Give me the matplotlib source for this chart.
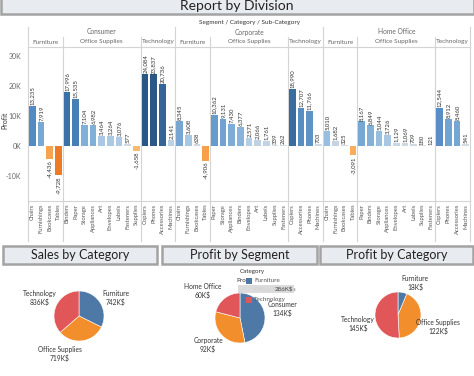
import matplotlib
matplotlib.use("Agg")
import matplotlib.pyplot as plt
import matplotlib.transforms as mtransforms
from matplotlib.patches import Rectangle
from matplotlib.colors import LinearSegmentedColormap, Normalize

plt.rcParams['font.family'] = ['Lato', 'DejaVu Sans']

# ---------------- data ----------------
segments = ["Consumer", "Corporate", "Home Office"]
categories = ["Furniture", "Office Supplies", "Technology"]
category_counts = [4, 9, 4]

consumer_subcats = ["Chairs", "Furnishings", "Bookcases", "Tables",
                    "Binders", "Paper", "Storage", "Appliances", "Art", "Envelopes", "Labels", "Fasteners", "Supplies",
                    "Copiers", "Phones", "Accessories", "Machines"]
consumer_profit = [13235, 7919, -4436, -9728,
                   17996, 15535, 7104, 6982, 3464, 3264, 3076, 577, -1658,
                   24084, 23837, 20736, 2141]

corporate_subcats = ["Chairs", "Furnishings", "Bookcases", "Tables",
                     "Paper", "Storage", "Appliances", "Binders", "Envelopes", "Art", "Labels", "Supplies", "Fasteners",
                     "Copiers", "Accessories", "Phones", "Machines"]
corporate_profit = [8345, 3608, 638, -4906,
                    10362, 9131, 7430, 6377, 2571, 2066, 1761, 339, 262,
                    18990, 12707, 11766, 703]

homeoffice_subcats = ["Chairs", "Furnishings", "Bookcases", "Tables",
                      "Paper", "Binders", "Storage", "Appliances", "Envelopes", "Art", "Labels", "Supplies", "Fasteners",
                      "Copiers", "Phones", "Accessories", "Machines"]
homeoffice_profit = [5010, 1682, 325, -3091,
                     8167, 6849, 5044, 3726, 1129, 1069, 709, 180, 121,
                     12544, 8912, 8460, 541]

yticks = [-10000, 0, 10000, 20000, 30000]
ytick_labels = ["-10K", "0K", "10K", "20K", "30K"]

sales_cat = ["Furniture", "Office Supplies", "Technology"]
sales_val = [742, 719, 836]
seg_names = ["Consumer", "Corporate", "Home Office"]
seg_profit = [134, 92, 60]
cat_names = ["Furniture", "Office Supplies", "Technology"]
cat_profit = [18, 122, 145]

pie_colors = ["#4e79a7", "#f28e2b", "#e15759"]

# ---------------- figure ----------------
W, H = 474, 376
fig = plt.figure(figsize=(W / 100, H / 100), dpi=100)
fig.patch.set_facecolor("white")


def rect(x0, y0, x1, y1):
    return [x0 / W, 1 - y1 / H, (x1 - x0) / W, (y1 - y0) / H]


def fx(x):
    return x / W


def fy(y):
    return 1 - y / H


def box(x0, y0, x1, y1, text, fs, ty):
    r = Rectangle((fx(x0), fy(y1)), (x1 - x0) / W, (y1 - y0) / H, transform=fig.transFigure,
                  facecolor="#e8ecf1", edgecolor="#a3a3a3", lw=1.8, zorder=0)
    fig.patches.append(r)
    fig.text(fx((x0 + x1) / 2), fy(ty), text, ha="center", va="center", fontsize=fs,
             color="#222222")


# Title
box(0.5, -6, 473.5, 14, "Report by Division", 10, 6.5)

# ---------------- bar chart ----------------
ax = fig.add_axes(rect(28, 47, 470, 201))
values = consumer_profit + corporate_profit + homeoffice_profit
labels = consumer_subcats + corporate_subcats + homeoffice_subcats
xs = list(range(len(values)))
vmax = max(abs(v) for v in values)
cmap = LinearSegmentedColormap.from_list("ob", [
    (0.0, "#b4470c"), (0.3, "#ee7a26"), (0.41, "#f7a550"), (0.47, "#f9bb72"),
    (0.5, "#dcdfe2"), (0.515, "#d0dae4"), (0.57, "#abc9e4"), (0.65, "#7eaed8"),
    (0.78, "#5189c0"), (0.87, "#3d72a8"), (1.0, "#2a5783")])
norm = Normalize(-vmax, vmax)
ax.bar(xs, values, width=0.78, color=[cmap(norm(v)) for v in values], zorder=2)
for x, v in zip(xs, values):
    ax.text(x, v + (300 if v >= 0 else -300), f"{v:,}", rotation=90, ha="center",
            va="bottom" if v >= 0 else "top", fontsize=4.3, color="#333333")
ax.set_xlim(-0.5, len(values) - 0.5)
ax.set_ylim(-18333, 33000)
ax.set_yticks(yticks)
ax.set_yticklabels(ytick_labels)
ax.set_xticks(xs)
ax.set_xticklabels(labels, rotation=90, fontsize=4.2, color="#555555")
ax.tick_params(axis="both", length=0)
ax.tick_params(axis="y", labelsize=5, labelcolor="#666666", pad=5)
ax.tick_params(axis="x", pad=2)
for s in ["top", "left", "right"]:
    ax.spines[s].set_visible(False)
ax.spines["bottom"].set_color("#d4d4d4")
ax.spines["bottom"].set_linewidth(0.8)
ax.set_facecolor("white")

trans = mtransforms.blended_transform_factory(ax.transData, fig.transFigure)
n_seg = sum(category_counts)
for si, seg in enumerate(segments):
    start = si * n_seg - 0.5
    ax.plot([start, start], [fy(27), fy(241)], transform=trans, color="#d4d4d4", lw=0.8,
            clip_on=False, zorder=1)
    ax.text(start + n_seg / 2, fy(32), seg, transform=trans, ha="center", va="center",
            fontsize=4.8, color="#666666")
    pos = start
    for ci, (cat, cnt) in enumerate(zip(categories, category_counts)):
        if ci > 0:
            ax.plot([pos, pos], [fy(37), fy(241)], transform=trans, color="#d4d4d4", lw=0.8,
                    clip_on=False, zorder=1)
        ax.text(pos + cnt / 2, fy(42), cat, transform=trans, ha="center", va="center",
                fontsize=4.6, color="#666666")
        pos += cnt
end = len(values) - 0.5
ax.plot([end, end], [fy(27), fy(241)], transform=trans, color="#d4d4d4", lw=0.8,
        clip_on=False, zorder=1)
ax.plot([-0.5, end], [fy(47), fy(47)], transform=trans, color="#d4d4d4", lw=0.8,
        clip_on=False, zorder=1)
ax.text((len(values) - 1) / 2, fy(22.5), "Segment / Category / Sub-Category", transform=trans,
        ha="center", va="center", fontsize=4.6, color="#333333")
fig.text(fx(5), fy(120), "Profit", rotation=90, ha="center", va="center", fontsize=5,
         color="#333333")

# ---------------- pies ----------------
box(3, 246, 157, 264, "Sales by Category", 9, 255)
box(162, 246, 317, 264, "Profit by Segment", 9, 255)
box(320, 246, 473, 264, "Profit by Category", 9, 255)


def pie(cx, cy, r, vals):
    a = fig.add_axes(rect(cx - r, cy - r, cx + r, cy + r))
    a.pie(vals, colors=pie_colors, startangle=90, counterclock=False, radius=1,
          wedgeprops=dict(edgecolor="white", linewidth=0.4))
    a.set_xlim(-1, 1)
    a.set_ylim(-1, 1)
    a.set_aspect("equal")
    a.axis("off")


def plabel(x, y, name, val):
    fig.text(fx(x), fy(y), f"{name}\n{val}K$", ha="center", va="center", fontsize=4.8,
             color="#333333", linespacing=1.3)


pie(79, 316, 25, sales_val)
plabel(40, 298, sales_cat[2], sales_val[2])
plabel(116, 298, sales_cat[0], sales_val[0])
plabel(60, 354, sales_cat[1], sales_val[1])

pie(240, 318, 25, seg_profit)
plabel(203, 291, seg_names[2], seg_profit[2])
plabel(282, 309, seg_names[0], seg_profit[0])
plabel(208, 345, seg_names[1], seg_profit[1])

# legend overlay on the segment pie
fig.text(fx(252), fy(272), "Category", ha="center", va="center", fontsize=4.5, color="#333333")
fig.text(fx(236), fy(280), "Profit", ha="left", va="center", fontsize=4.5, color="#333333")
for yy, col, name in [(281, pie_colors[0], cat_names[0]), (299.5, pie_colors[2], cat_names[2])]:
    fig.patches.append(Rectangle((fx(246), fy(yy + 3)), 6 / W, 6 / H, transform=fig.transFigure,
                                 facecolor=col, edgecolor="none", zorder=5))
    fig.text(fx(254), fy(yy), name, ha="left", va="center", fontsize=4.5, color="#555555",
             zorder=5)
fig.text(fx(254), fy(290), "Office Supplies", ha="left", va="center", fontsize=4.5,
         color="#555555", zorder=5)
fig.patches.append(Rectangle((fx(238), fy(293)), 56 / W, 8 / H, transform=fig.transFigure,
                             facecolor="#d9d9d9", edgecolor="none", alpha=0.95, zorder=6))
fig.text(fx(293), fy(289), "286K$", ha="right", va="center", fontsize=4.5, color="#444444",
         zorder=7)

pie(398, 315, 23, cat_profit)
plabel(415, 283, cat_names[0], cat_profit[0])
plabel(438, 327, cat_names[1], cat_profit[1])
plabel(358, 324, cat_names[2], cat_profit[2])

fig.savefig("out.png", dpi=100, facecolor="white")
